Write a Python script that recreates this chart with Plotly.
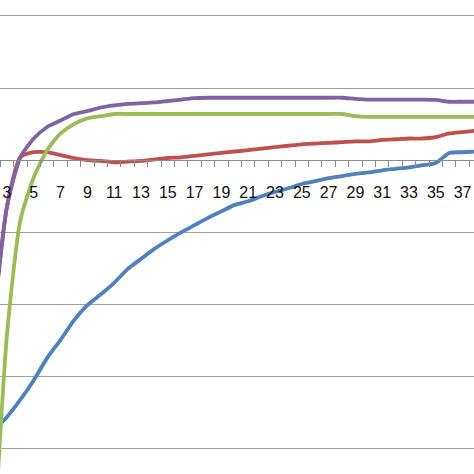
import plotly.graph_objects as go

# categories (x) and series values (gridline = 1 unit, x axis at 0)
g_x = list(range(2, 39))
g_blue = [-3.75, -3.56, -3.32, -3.05, -2.74, -2.49, -2.22, -2.01, -1.86, -1.70,
          -1.51, -1.37, -1.23, -1.11, -1.00, -0.90, -0.80, -0.71, -0.62, -0.57,
          -0.50, -0.44, -0.39, -0.33, -0.29, -0.25, -0.22, -0.19, -0.17, -0.14,
          -0.12, -0.10, -0.07, -0.04, 0.10, 0.11, 0.12]
g_red = [-2.20, -0.64, 0.04, 0.11, 0.11, 0.07, 0.03, 0.00, -0.01, -0.03,
         -0.02, -0.01, 0.01, 0.03, 0.04, 0.06, 0.08, 0.10, 0.12, 0.14,
         0.16, 0.18, 0.20, 0.22, 0.23, 0.24, 0.25, 0.26, 0.26, 0.28,
         0.29, 0.30, 0.30, 0.32, 0.37, 0.39, 0.41]
g_green = [-5.40, -2.42, -0.83, -0.24, 0.14, 0.37, 0.50, 0.58, 0.61, 0.64,
           0.64, 0.64, 0.64, 0.64, 0.64, 0.64, 0.64, 0.64, 0.64, 0.64,
           0.64, 0.64, 0.64, 0.64, 0.64, 0.64, 0.64, 0.61, 0.60, 0.60,
           0.60, 0.60, 0.60, 0.60, 0.60, 0.60, 0.60]
g_purple = [-2.24, -0.65, 0.04, 0.30, 0.46, 0.55, 0.64, 0.68, 0.73, 0.76,
            0.78, 0.79, 0.80, 0.82, 0.84, 0.86, 0.865, 0.865, 0.865, 0.865,
            0.865, 0.865, 0.865, 0.865, 0.865, 0.865, 0.865, 0.85, 0.84, 0.84,
            0.84, 0.84, 0.84, 0.835, 0.81, 0.81, 0.81]
g_tick_vals = list(range(3, 39, 2))
g_tick_text = [str(v) for v in g_tick_vals]
g_minor_ticks = [v + 0.5 for v in range(2, 39)]

g_y_range = [-4.35, 2.22]

fig = go.Figure()
for l_y, l_color in [(g_blue, '#4F81BD'), (g_red, '#C0504D'), (g_green, '#9BBB59'), (g_purple, '#8064A2')]:
    fig.add_trace(go.Scatter(x=g_x, y=l_y, mode='lines', showlegend=False,
                             line=dict(color=l_color, width=3.8, shape='spline', smoothing=0.6)))

# x axis sits where y = 0
l_pos = (0 - g_y_range[0]) / (g_y_range[1] - g_y_range[0])

fig.update_layout(
    width=474, height=474,
    margin=dict(l=0, r=0, t=0, b=0),
    plot_bgcolor='white', paper_bgcolor='white',
    xaxis=dict(range=[2.48, 37.85], anchor='free', position=l_pos, showline=True, linecolor='#8C8C8C', linewidth=1.3,
               tickmode='array', tickvals=g_tick_vals, ticktext=g_tick_text, ticks='', showgrid=False, zeroline=False,
               ticklabelstandoff=17, tickfont=dict(family='Liberation Sans', size=16, color='#111111'),
               minor=dict(tickmode='array', tickvals=g_minor_ticks, ticks='outside', ticklen=6, tickcolor='#8C8C8C',
                          tickwidth=1.3, showgrid=False)),
    yaxis=dict(range=g_y_range, dtick=1, tick0=0, showgrid=True, gridcolor='#A0A0A0', gridwidth=1.3,
               showticklabels=False, zeroline=False, ticks=''),
)

fig.write_html("out.html", config={'displayModeBar': False},
               post_script="document.body.style.margin='0';document.body.style.overflow='hidden';")
